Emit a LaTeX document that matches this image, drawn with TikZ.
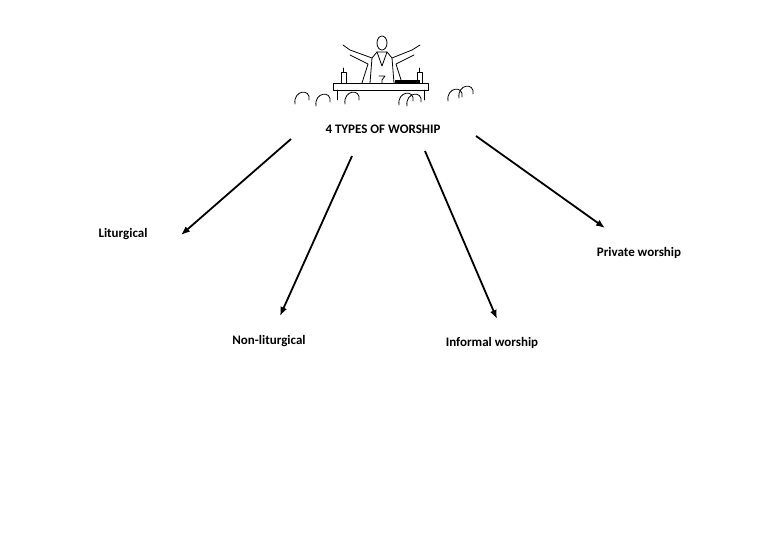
\documentclass[tikz,border=0pt]{standalone}
\usepackage{fontspec}
\setmainfont{Carlito}
\usetikzlibrary{arrows.meta}
\begin{document}
\begin{tikzpicture}[x=1pt,y=-1pt,
  lab/.style={font=\bfseries\fontsize{13}{15}\selectfont, inner sep=1pt},
  arr/.style={line width=1.8pt,-{Latex[length=9pt,width=7pt]}},
  art/.style={line width=0.8pt, line join=round, line cap=round}]
\useasboundingbox (0,0) rectangle (768,543);
% clip art
\draw[art] (382,43) ellipse (5 and 7);
\draw[art] (343,45) -- (350,50) -- (372,58) -- (377,52) -- (387,52) -- (392,58) -- (412,50) -- (420,45);
\draw[art] (350,55) -- (368,64) -- (362,83);
\draw[art] (414,55) -- (396,64) -- (402,83);
\draw[art] (372,58) -- (370,83) (392,58) -- (394,83);
\draw[art] (377,52) -- (382,66) -- (387,52);
\draw[art] (379,76) -- (385,76) -- (382,80) -- (382,83);
\fill (395,80) rectangle (420,83);
\draw[art] (333,83) rectangle (428,90);
\draw[art] (341,72) rectangle (346,83) (417,72) rectangle (422,83);
\draw[art] (343.5,72) -- (343.5,68) (419.5,72) -- (419.5,68);
\foreach \x/\y in {302/96,323/98,352/96,406/97,414/98,455/93,466/90}{
  \draw[art] (\x-7,\y+8) .. controls (\x-9,\y-6) and (\x+9,\y-8) .. (\x+7,\y+4);
}
\draw[art] (337,90) -- (337,100) (424,90) -- (424,100);
% nodes
\node[lab] (top) at (383,129) {4 TYPES OF WORSHIP};
\node[lab] (lit) at (123,234) {Liturgical};
\node[lab] (non) at (269,341) {Non-liturgical};
\node[lab] (inf) at (492,343) {Informal worship};
\node[lab] (pri) at (639,253) {Private worship};
\coordinate (a1) at (291,139); \coordinate (b1) at (181,235);
\coordinate (a2) at (352,156); \coordinate (b2) at (280,316);
\coordinate (a3) at (425,151); \coordinate (b3) at (497,319);
\coordinate (a4) at (476,136); \coordinate (b4) at (605,228);
\draw[arr] (a1) -- (b1);
\draw[arr] (a2) -- (b2);
\draw[arr] (a3) -- (b3);
\draw[arr] (a4) -- (b4);
\end{tikzpicture}
\end{document}
